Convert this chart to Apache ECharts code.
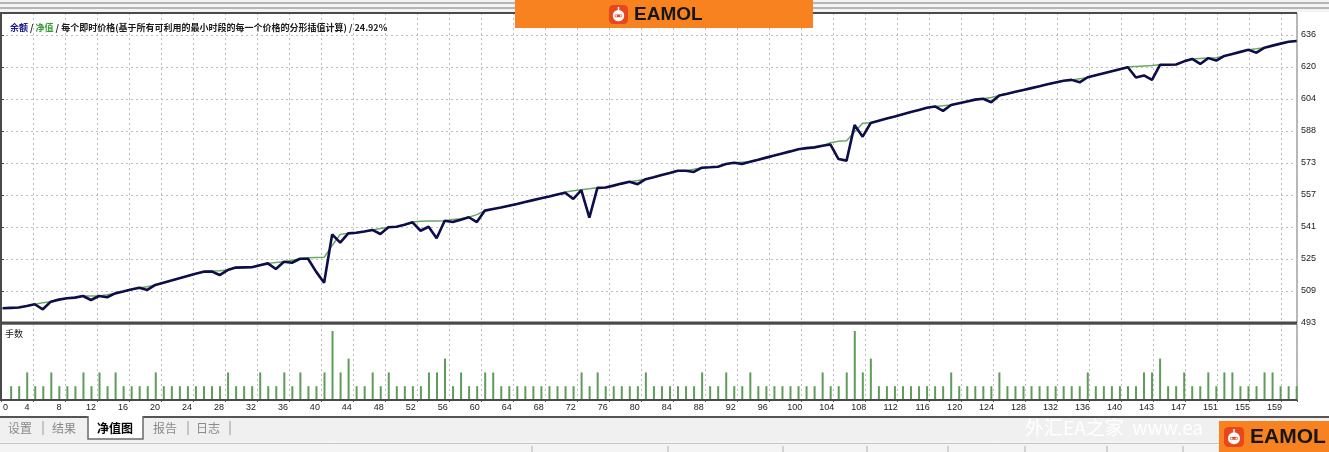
<!DOCTYPE html>
<html><head><meta charset="utf-8">
<script src="https://cdn.jsdelivr.net/npm/echarts@6/dist/echarts.min.js"></script>
<style>html,body{margin:0;padding:0;background:#fff;}#c{width:1329px;height:452px;}</style>
</head><body><div id="c"></div>
<script>
// 余额 (navy line), one value per trade index 0..161
const balanceLine = [
500.3,500.5,500.7,501.4,502.3,499.8,503.6,504.6,505.3,505.6,
506.4,504.4,506.4,505.8,507.7,508.6,509.6,510.5,509.4,511.9,
513.0,514.1,515.2,516.3,517.4,518.5,518.6,516.8,519.3,520.5,
520.6,520.7,521.7,522.6,519.8,523.4,522.9,524.9,524.9,518.5,
513.0,537.0,532.9,537.5,537.8,538.4,539.2,537.2,540.5,540.8,
541.8,543.0,538.8,540.8,535.1,543.8,543.1,544.3,545.5,543.1,
548.8,549.6,550.3,551.2,552.1,553.1,554.0,554.9,555.8,556.8,
557.7,554.6,559.0,545.3,560.1,560.3,561.2,562.2,563.1,561.9,
564.4,565.4,566.5,567.5,568.6,568.6,568.0,570.1,570.3,570.6,
571.9,572.6,571.9,573.0,574.0,575.1,576.1,577.2,578.2,579.3,
579.8,580.2,581.0,581.6,574.4,573.6,591.3,585.5,592.3,593.4,
594.5,595.5,596.6,597.7,598.8,599.9,600.5,598.3,601.2,602.1,
603.0,603.9,604.3,602.6,605.9,606.8,607.8,608.7,609.6,610.5,
611.5,612.4,613.3,613.7,612.5,615.0,616.0,617.0,618.0,619.0,
620.0,614.9,615.9,613.7,621.2,621.2,621.3,622.9,624.1,621.6,
624.5,623.3,625.6,626.6,627.6,628.6,627.2,629.7,630.7,631.7,
632.6,633.0];
// 净值 (green line), one value per trade index 0..161
const equityLine = [
500.3,500.5,500.7,501.4,502.3,503.0,503.6,504.6,505.3,505.6,
506.4,506.4,506.4,507.0,507.7,508.6,509.6,510.5,511.0,511.9,
513.0,514.1,515.2,516.3,517.4,518.5,518.8,519.0,519.3,520.5,
520.6,520.7,521.7,522.6,523.0,523.4,524.2,524.9,525.4,525.5,
525.6,531.5,537.0,537.5,537.8,538.4,539.2,539.9,540.5,540.8,
541.8,543.2,543.5,543.6,543.7,543.8,544.4,544.8,545.5,546.8,
548.8,549.6,550.3,551.2,552.1,553.1,554.0,554.9,555.8,556.8,
558.0,558.7,559.2,559.6,560.1,560.3,561.2,562.2,563.1,563.7,
564.4,565.4,566.5,567.5,568.6,568.6,569.3,570.1,570.3,570.6,
571.9,572.6,572.8,573.0,574.0,575.1,576.1,577.2,578.2,579.3,
579.8,580.2,581.0,582.5,583.2,583.5,587.9,592.2,592.4,593.4,
594.5,595.5,596.6,597.7,598.8,599.9,600.5,600.8,601.2,602.1,
603.0,603.9,604.3,605.0,605.9,606.8,607.8,608.7,609.6,610.5,
611.5,612.4,613.3,613.7,614.2,615.0,616.0,617.0,618.0,619.0,
620.2,620.4,620.6,620.8,621.2,621.2,621.3,622.9,624.1,624.3,
624.5,624.7,625.6,626.6,627.6,628.6,629.1,629.7,630.7,631.7,
632.6,633.0];
// 手数 (lots) for trades 1..161
const lots = [
0.01,0.01,0.02,0.01,0.01,0.02,0.01,0.01,0.01,0.02,
0.01,0.02,0.01,0.02,0.01,0.01,0.01,0.01,0.02,0.01,
0.01,0.01,0.01,0.01,0.01,0.01,0.01,0.02,0.01,0.01,
0.01,0.02,0.01,0.01,0.02,0.01,0.02,0.01,0.01,0.02,
0.05,0.02,0.03,0.01,0.01,0.02,0.01,0.02,0.01,0.01,
0.01,0.01,0.02,0.02,0.03,0.01,0.02,0.01,0.01,0.02,
0.02,0.01,0.01,0.01,0.01,0.01,0.01,0.01,0.01,0.01,
0.01,0.02,0.01,0.02,0.01,0.01,0.01,0.01,0.01,0.02,
0.01,0.01,0.01,0.01,0.01,0.01,0.02,0.01,0.01,0.02,
0.01,0.01,0.02,0.01,0.01,0.01,0.01,0.01,0.01,0.01,
0.01,0.02,0.01,0.01,0.02,0.05,0.02,0.03,0.01,0.01,
0.01,0.01,0.01,0.01,0.01,0.01,0.01,0.02,0.01,0.01,
0.01,0.01,0.01,0.02,0.01,0.01,0.01,0.01,0.01,0.01,
0.01,0.01,0.01,0.01,0.02,0.01,0.01,0.01,0.01,0.01,
0.01,0.02,0.02,0.03,0.01,0.01,0.02,0.01,0.01,0.02,
0.01,0.02,0.02,0.01,0.01,0.01,0.02,0.02,0.01,0.01,
0.01];
const xTickLabels = ['0','4','8','12','16','20','24','28','32','36','40','44','48','52','56','60','64','68','72','76','80','84','88','92','96','100','104','108','112','116','120','124','128','132','136','140','143','147','151','155','159'];
const yTickLabels = ['493','509','525','541','557','573','588','604','620','636'];
const titleParts = ['余额','净值','每个即时价格(基于所有可利用的最小时段的每一个价格的分形插值计算)','24.92%'];
const tabNames = ['设置','结果','净值图','报告','日志'];

const FONT = "'Liberation Sans','Noto Sans CJK SC',sans-serif";
const CJK = "'Noto Sans CJK SC','Liberation Sans',sans-serif";
const NAVY = '#0d0d4a', GREEN = '#6aa865', BAR = '#5e9c5a';
const gridLine = {show:true, lineStyle:{color:'#bdbdbd', type:[2,3], width:1}};

const chart = echarts.init(document.getElementById('c'), null, {renderer:'canvas'});
const xData = {min:-0.2, max:161.04};
const opt = {
  animation:false,
  backgroundColor:'#ffffff',
  title:{
    left:5, top:18,
    text:'{b|'+titleParts[0]+'}{k| / }{g|'+titleParts[1]+'}{k| / '+titleParts[2]+' / '+titleParts[3]+'}',
    textStyle:{fontSize:9, fontFamily:CJK, rich:{
      b:{color:'#1a1a8a', fontSize:9, fontFamily:CJK},
      g:{color:'#3a9a3a', fontSize:9, fontFamily:CJK},
      k:{color:'#1a1a1a', fontSize:9, fontFamily:CJK}
    }}
  },
  grid:[
    {left:1, top:13, width:1296, height:310, show:true, borderColor:'#6e6e6e', borderWidth:1},
    {left:1, top:324, width:1296, height:76, show:true, borderColor:'#6e6e6e', borderWidth:1}
  ],
  xAxis:[
    {gridIndex:0, type:'value', min:xData.min, max:xData.max, show:false},
    {gridIndex:0, type:'value', min:0, max:40.5, interval:1, position:'bottom',
      axisLine:{show:false}, axisTick:{show:false}, axisLabel:{show:false}, splitLine:gridLine},
    {gridIndex:1, type:'value', min:xData.min, max:xData.max, show:false},
    {gridIndex:1, type:'value', min:0, max:40.5, interval:1, position:'bottom',
      axisLine:{show:false}, axisTick:{show:true, length:2, lineStyle:{color:'#555'}},
      splitLine:gridLine,
      axisLabel:{show:true, margin:3, fontSize:9, fontFamily:FONT, color:'#1a1a1a',
        formatter:function(v){
          if (Math.abs(v-Math.round(v))>1e-6) return '';
          const i=Math.round(v);
          if (xTickLabels[i]===undefined) return '';
          if (i===0) return '{z|'+xTickLabels[i]+'}';
          return '{n|'+xTickLabels[i]+'}';
        },
        rich:{z:{padding:[0,0,0,8], fontSize:9, fontFamily:FONT, color:'#1a1a1a'},
              n:{padding:[0,13,0,0], fontSize:9, fontFamily:FONT, color:'#1a1a1a'}}
      }}
  ],
  yAxis:[
    {gridIndex:0, type:'value', min:493, max:646.9, show:false, position:'left'},
    {gridIndex:0, type:'value', min:0, max:9.6875, interval:1, position:'right',
      axisLine:{show:true, lineStyle:{color:'#3c3c3c', width:2}},
      axisTick:{show:true, length:3, lineStyle:{color:'#3c3c3c'}},
      splitLine:gridLine,
      axisLabel:{show:true, margin:4, fontSize:9, fontFamily:FONT, color:'#1a1a1a',
        formatter:function(v){
          if (Math.abs(v-Math.round(v))>1e-6) return '';
          const t=yTickLabels[Math.round(v)];
          return t===undefined?'':t;
        }}},
    {gridIndex:1, type:'value', min:0, max:0.0551, show:false}
  ],
  series:[
    {name:'净值', type:'line', xAxisIndex:0, yAxisIndex:0, showSymbol:false, z:3,
      lineStyle:{color:GREEN, width:1.5}, data:equityLine.map((v,i)=>[i,v])},
    {name:'余额', type:'line', xAxisIndex:0, yAxisIndex:0, showSymbol:false, z:4,
      lineStyle:{color:NAVY, width:2.6}, data:balanceLine.map((v,i)=>[i,v])},
    {name:'手数', type:'bar', xAxisIndex:2, yAxisIndex:2, barWidth:2, z:3,
      itemStyle:{color:BAR}, data:lots.map((v,i)=>[i+1,v])}
  ],
  graphic:[]
};

const g = opt.graphic;
function logo(x, y, size, fs){
  const s=size;
  g.push({type:'rect', z:101, shape:{x:x, y:y, width:s, height:s, r:s*0.22}, style:{fill:'#e8471e'}});
  g.push({type:'circle', z:102, shape:{cx:x+s/2, cy:y+s*0.56, r:s*0.3}, style:{fill:'#ffffff'}});
  g.push({type:'rect', z:102, shape:{x:x+s*0.3, y:y+s*0.5, width:s*0.4, height:s*0.14, r:s*0.07}, style:{fill:'#e8471e'}});
  g.push({type:'circle', z:103, shape:{cx:x+s*0.38, cy:y+s*0.57, r:s*0.045}, style:{fill:'#ffffff'}});
  g.push({type:'circle', z:103, shape:{cx:x+s*0.62, cy:y+s*0.57, r:s*0.045}, style:{fill:'#ffffff'}});
  g.push({type:'line', z:102, shape:{x1:x+s/2, y1:y+s*0.1, x2:x+s/2, y2:y+s*0.28}, style:{stroke:'#ffffff', lineWidth:1.5}});
  g.push({type:'text', z:103, x:x+s+6, y:y+s/2, style:{text:'EAMOL', fill:'#161616', font:'bold '+fs+'px '+FONT, textVerticalAlign:'middle', textAlign:'left'}});
}
// top window chrome
g.push({type:'rect', z:0, shape:{x:0,y:0,width:1329,height:12}, style:{fill:'#f3f3f3'}});
g.push({type:'line', z:1, shape:{x1:0,y1:3,x2:1329,y2:3}, style:{stroke:'#b5b5b5', lineWidth:2}});
g.push({type:'line', z:1, shape:{x1:0,y1:8,x2:1329,y2:8}, style:{stroke:'#b5b5b5', lineWidth:2}});
g.push({type:'line', z:20, shape:{x1:1,y1:13,x2:1297,y2:13}, style:{stroke:'#4a4a4a', lineWidth:2}});
g.push({type:'line', z:20, shape:{x1:1,y1:12,x2:1,y2:400}, style:{stroke:'#4a4a4a', lineWidth:2}});
// top banner
g.push({type:'rect', z:100, shape:{x:515,y:0,width:298,height:28}, style:{fill:'#f7821f'}});
logo(609, 5, 19, 19);
// pane separators
g.push({type:'line', z:20, shape:{x1:0,y1:323,x2:1297,y2:323}, style:{stroke:'#4a4a4a', lineWidth:3}});
g.push({type:'line', z:20, shape:{x1:0,y1:400,x2:1297,y2:400}, style:{stroke:'#4a4a4a', lineWidth:2}});
g.push({type:'text', z:20, x:5, y:334, style:{text:'手数', fill:'#1a1a1a', font:'9px '+CJK, textVerticalAlign:'middle'}});
// tab bar
g.push({type:'rect', z:10, shape:{x:0,y:417,width:1329,height:24}, style:{fill:'#f0f0f0'}});
g.push({type:'line', z:11, shape:{x1:0,y1:417,x2:88,y2:417}, style:{stroke:'#555555', lineWidth:2}});
g.push({type:'line', z:11, shape:{x1:143,y1:417,x2:1329,y2:417}, style:{stroke:'#555555', lineWidth:2}});
g.push({type:'polyline', z:12, shape:{points:[[88,416],[88,439],[143,439],[143,416]]}, style:{fill:'#ffffff', stroke:'#6a6a6a', lineWidth:1.5}});
const tabX = [20,64,115,165,208];
tabNames.forEach((t,i)=>{
  g.push({type:'text', z:13, x:tabX[i], y:428, style:{text:t, fill: i===2?'#000000':'#8a8a8a', font:(i===2?'bold ':'')+'12px '+CJK, textAlign:'center', textVerticalAlign:'middle'}});
});
[43,188,230].forEach(x=>g.push({type:'line', z:13, shape:{x1:x,y1:421,x2:x,y2:435}, style:{stroke:'#9a9a9a', lineWidth:1}}));
g.push({type:'text', z:13, x:1025, y:428, style:{text:'外汇EA之家  www.ea', fill:'rgba(255,255,255,0.95)', font:'19px '+CJK, textVerticalAlign:'middle'}});
// status strip
g.push({type:'rect', z:10, shape:{x:0,y:441,width:1329,height:11}, style:{fill:'#f4f4f4'}});
g.push({type:'line', z:11, shape:{x1:0,y1:443.5,x2:1329,y2:443.5}, style:{stroke:'#c6c6c6', lineWidth:1}});
[532,668,783,867,948,1025,1107,1183].forEach(x=>g.push({type:'line', z:11, shape:{x1:x,y1:446,x2:x,y2:452}, style:{stroke:'#b0b0b0', lineWidth:1}}));
// bottom-right banner
g.push({type:'rect', z:100, shape:{x:1219,y:421,width:110,height:31}, style:{fill:'#f7821f'}});
logo(1224, 427, 20, 21);

chart.setOption(opt);
</script></body></html>
